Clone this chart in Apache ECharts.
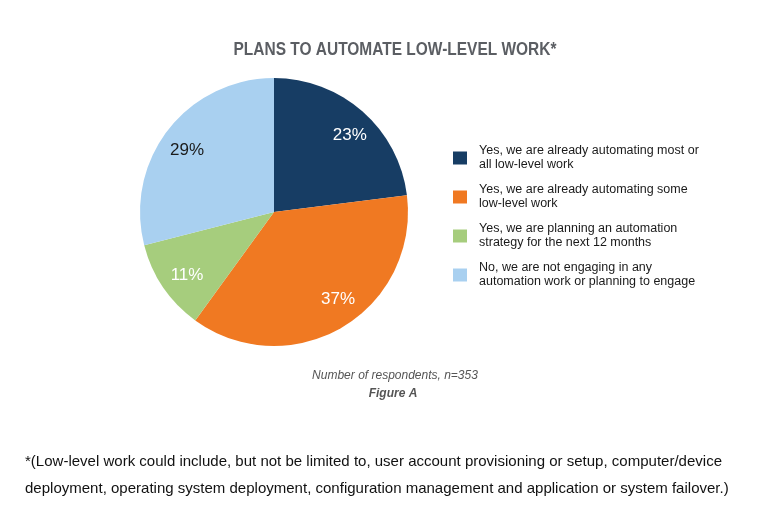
<!DOCTYPE html>
<html>
<head>
<meta charset="utf-8">
<script src="https://cdn.jsdelivr.net/npm/echarts@6/dist/echarts.min.js"></script>
<style>
  html, body { margin: 0; padding: 0; background: #fff; }
  #chart { width: 770px; height: 509px; }
</style>
</head>
<body>
<div id="chart"></div>
<script>
// data
var categories = [
  "Yes, we are already automating most or\nall low-level work",
  "Yes, we are already automating some\nlow-level work",
  "Yes, we are planning an automation\nstrategy for the next 12 months",
  "No, we are not engaging in any\nautomation work or planning to engage"
];
var shares = [23, 37, 11, 29];
var colors = ["#173d64", "#f07922", "#a6cd7d", "#a9d0f0"];
var labelColors = ["#fff", "#fff", "#fff", "#1a1a1a"];
// small nudges so the percentages sit where the original put them
var labelNudge = [[3, 6], [8, -7], [4, 1], [0, 6]];

var titleText = "PLANS TO AUTOMATE LOW-LEVEL WORK*";
var titleFont = "bold 19px 'Liberation Sans'";
var noteFont = "15px 'Liberation Sans'";
var noteLines = [
  "*(Low-level work could include, but not be limited to, user account provisioning or setup, computer/device",
  "deployment, operating system deployment, configuration management and application or system failover.)"
];

// the original uses condensed faces; squeeze regular ones to the same widths
var ctx = document.createElement("canvas").getContext("2d");
ctx.font = titleFont;
var titleScale = 323 / ctx.measureText(titleText).width;
ctx.font = noteFont;
var noteScale = 697 / ctx.measureText(noteLines[0]).width;

var chart = echarts.init(document.getElementById("chart"));

var pieData = shares.map(function (v, i) {
  return { name: categories[i], value: v, itemStyle: { color: colors[i] } };
});
// transparent ring used only to place the percentage labels
var labelData = shares.map(function (v, i) {
  return {
    name: categories[i], value: v,
    itemStyle: { color: "transparent" },
    label: { color: labelColors[i], offset: labelNudge[i] }
  };
});

var option = {
  animation: false,
  legend: {
    orient: "vertical",
    left: 448, top: 139,
    itemWidth: 14, itemHeight: 13,
    itemGap: 11,
    icon: "rect",
    selectedMode: false,
    data: categories,
    textStyle: {
      fontFamily: "Liberation Sans",
      fontSize: 12.5,
      lineHeight: 14,
      color: "#1a1a1a",
      padding: [0, 0, 0, 7]
    }
  },
  series: [
    {
      type: "pie",
      center: [274, 212],
      radius: 134,
      startAngle: 90,
      clockwise: true,
      silent: true,
      label: { show: false },
      labelLine: { show: false },
      data: pieData
    },
    {
      type: "pie",
      center: [274, 212],
      radius: [80, 134],
      startAngle: 90,
      clockwise: true,
      silent: true,
      label: {
        show: true,
        position: "inside",
        formatter: "{c}%",
        fontFamily: "Liberation Sans",
        fontSize: 17
      },
      labelLine: { show: false },
      data: labelData
    }
  ],
  graphic: [
    {
      type: "text", x: 395, y: 50, scaleX: titleScale,
      style: {
        text: titleText,
        font: titleFont,
        fill: "#5b5e63", align: "center", verticalAlign: "middle"
      }
    },
    {
      type: "text", x: 395, y: 376,
      style: {
        text: "Number of respondents, n=353",
        font: "italic 12px 'Liberation Sans'",
        fill: "#555", align: "center", verticalAlign: "middle"
      }
    },
    {
      type: "text", x: 393, y: 394,
      style: {
        text: "Figure A",
        font: "italic bold 12px 'Liberation Sans'",
        fill: "#555", align: "center", verticalAlign: "middle"
      }
    },
    {
      type: "text", x: 25, y: 462, scaleX: noteScale,
      style: { text: noteLines[0], font: noteFont, fill: "#111", verticalAlign: "middle" }
    },
    {
      type: "text", x: 25, y: 489, scaleX: noteScale,
      style: { text: noteLines[1], font: noteFont, fill: "#111", verticalAlign: "middle" }
    }
  ]
};

chart.setOption(option);
</script>
</body>
</html>
